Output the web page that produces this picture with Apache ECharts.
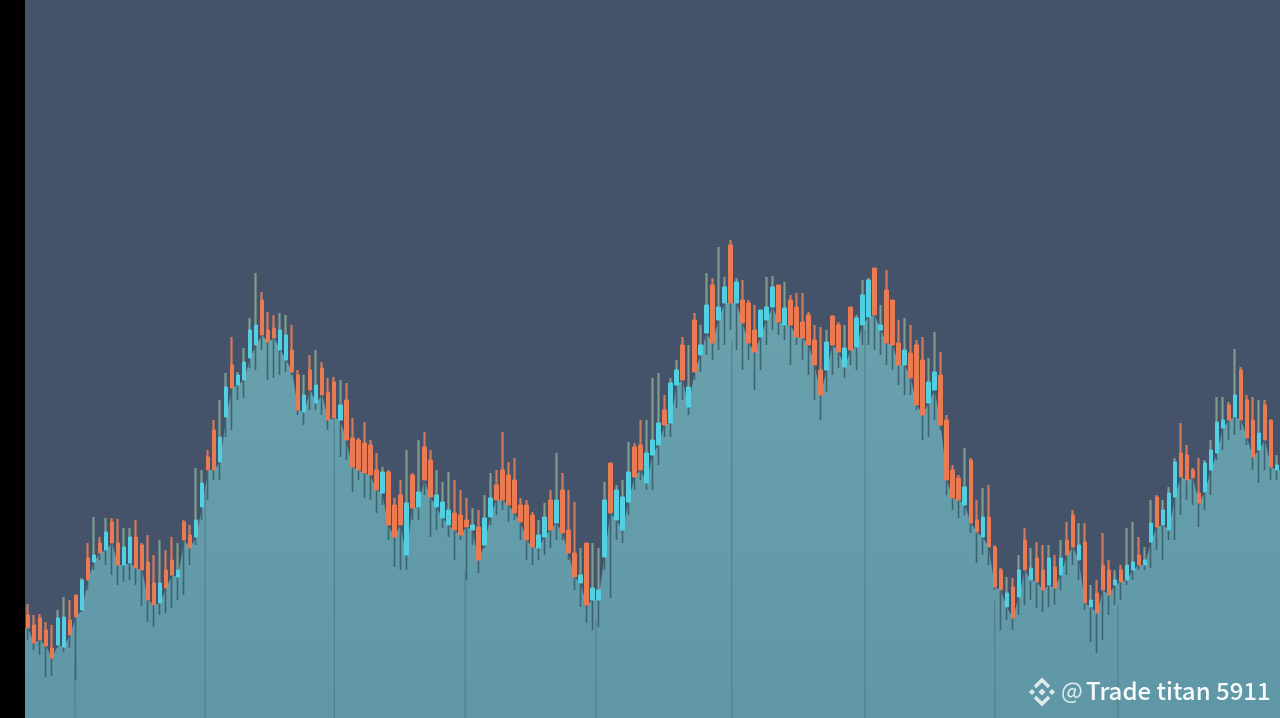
<!DOCTYPE html>
<html>
<head>
<meta charset="utf-8">
<style>html,body{margin:0;padding:0;background:#000;width:1280px;height:718px;overflow:hidden}#c{width:1280px;height:718px}#c canvas{filter:blur(.55px)}</style>
<script src="https://cdn.jsdelivr.net/npm/echarts@6/dist/echarts.min.js"></script>
</head>
<body>
<div id="c"></div>
<script>
const opens=[103,93,100,88,70,73,71,98,123,108,160,156,175,168,196,175,153,155,181,173,156,135,115,148,158,141,196,183,181,
211,261,288,256,301,353,333,338,360,373,418,388,390,368,358,368,343,306,348,315,350,326,336,298,318,
280,278,275,273,248,225,246,213,223,163,243,211,271,258,211,200,193,205,203,198,188,191,173,201,233,248,243,
238,213,213,203,170,181,218,195,228,188,165,135,175,118,118,161,255,198,188,216,271,273,235,263,273,308,295,333,373,311,398,363,385,
433,398,415,473,415,418,415,388,381,398,411,433,393,418,411,396,403,378,348,348,402,393,351,411,371,393,401,450,388,428,418,375,353,365,373,358,
315,328,343,298,248,240,213,258,198,181,201,171,148,111,131,121,178,
138,160,148,133,151,143,178,203,158,176,111,125,153,148,133,148,138,148,163,153,
176,221,193,188,221,265,263,248,225,226,248,265,290,313,301,348,318,298,268,313,298,248];
const closes=[90,75,78,72,60,100,101,83,101,138,138,163,165,186,175,153,171,181,150,148,118,113,135,130,143,148,178,170,198,
235,248,248,281,331,330,343,356,388,393,383,376,380,388,383,346,308,323,328,333,323,298,300,313,278,
251,248,245,243,228,246,193,181,193,215,210,226,238,221,223,216,208,188,183,191,193,158,200,220,218,218,213,
205,196,178,171,183,201,188,218,185,165,141,143,113,130,128,218,205,228,221,246,241,248,265,278,295,293,335,348,338,331,346,373,413,
375,411,431,415,436,395,375,366,408,411,431,396,410,393,381,380,373,353,323,376,373,366,370,368,400,423,438,403,393,375,373,353,368,340,313,303,
336,346,293,238,220,218,231,195,186,201,171,131,128,125,100,148,148,
150,136,128,160,130,160,163,171,173,115,118,105,128,123,138,136,153,156,153,158,
195,191,208,225,256,241,238,240,215,255,268,296,298,298,323,298,280,261,285,278,251,253];
const highs=[114,103,104,96,93,108,121,118,123,140,175,201,181,200,200,199,190,190,198,175,183,163,178,168,181,175,198,193,250,
248,268,298,318,345,381,346,370,400,445,426,406,403,405,403,393,348,343,363,368,356,340,341,338,335,
300,280,296,278,265,251,248,220,238,268,245,278,286,268,248,236,246,238,228,220,210,208,223,245,248,286,256,
260,220,218,206,198,215,228,265,245,228,216,170,175,175,170,236,255,233,238,276,275,298,298,340,345,323,340,358,381,373,405,393,445,
440,471,441,478,440,438,418,413,408,441,442,433,436,423,425,425,406,393,391,388,402,396,393,411,403,438,440,450,413,448,418,398,400,393,378,381,
360,386,366,303,253,243,270,260,218,230,233,173,150,141,140,163,190,
170,176,173,173,163,178,196,208,195,195,133,138,185,158,148,153,190,196,181,171,
218,223,218,231,260,295,273,250,260,258,278,321,321,316,369,351,323,321,318,318,298,263];
const lows=[78,68,63,41,42,70,66,70,38,106,128,148,158,153,143,133,136,138,133,112,96,91,103,105,110,118,123,153,173,
198,218,238,238,281,288,318,320,350,348,368,338,340,343,346,343,303,293,308,308,303,288,298,261,258,
226,238,220,218,205,213,178,151,148,148,198,198,223,181,188,190,181,158,178,138,173,145,170,193,203,208,196,
198,178,158,153,158,163,170,178,178,158,128,111,95,88,91,148,120,178,175,203,228,238,228,228,253,281,281,310,318,303,338,346,363,
358,368,373,388,368,348,358,328,348,373,388,383,378,353,373,358,343,318,298,326,343,350,340,353,348,373,373,368,363,353,348,333,323,323,308,278,
281,298,288,223,208,200,203,185,155,163,153,128,88,98,88,103,113,
118,110,106,111,113,128,143,153,138,108,76,65,78,103,113,118,133,138,148,148,
150,168,158,178,178,203,218,213,191,208,223,258,268,278,283,288,273,248,235,248,238,238];
const sessionBreaks=[8.33,30,51.5,73.3,95.1,117.7,139.9,161.5,182];
const breakHeights=[58,228,298,148,98,378,388,118,113];
const watermarkHandle="Trade titan 5911";

const categories=opens.map((_,i)=>String(i+1));
const bodyTop=opens.map((o,i)=>Math.max(o,closes[i]));
const bodyBot=opens.map((o,i)=>Math.min(o,closes[i]));
const count=opens.length;
const areaData=[[0,bodyBot[0]]].concat(bodyBot.map((v,i)=>[i+.5,v]),[[count,bodyBot[count-1]]]);

const chart=echarts.init(document.getElementById('c'),null,{renderer:'canvas'});
const ORANGE='#ea7a52',CYAN='#52cfe0',MARK='#dfeaec',FONT='"Noto Sans CJK SC",sans-serif';
const diamond=(cx,cy,r)=>({type:'polygon',z:20,shape:{points:[[cx,cy-r],[cx+r,cy],[cx,cy+r],[cx-r,cy]]},style:{fill:MARK}});
chart.setOption({
  animation:false,
  backgroundColor:'#000',
  tooltip:{show:false},
  legend:{show:false},
  grid:{left:25,right:0,top:0,bottom:0,show:true,backgroundColor:'#445369',borderWidth:0},
  xAxis:[
    {type:'category',data:categories,show:false,boundaryGap:true},
    {type:'value',min:0,max:count,show:false}
  ],
  yAxis:{type:'value',min:0,max:718,show:false},
  series:[
    {type:'line',xAxisIndex:1,data:areaData,showSymbol:false,silent:true,lineStyle:{width:0},
     areaStyle:{opacity:1,color:new echarts.graphic.LinearGradient(0,0,0,1,[{offset:0,color:'#69a2ad'},{offset:1,color:'#5f97a7'}])},z:2},
    {type:'bar',xAxisIndex:1,barWidth:1,data:sessionBreaks.map((x,i)=>[x,breakHeights[i]]),itemStyle:{color:'#507a89'},silent:true,z:3},
    {type:'candlestick',barWidth:1,silent:true,z:4,
     data:opens.map((o,i)=>[bodyBot[i],bodyBot[i],lows[i],bodyBot[i]]),
     itemStyle:{color:'#3c6470',color0:'#3c6470',borderColor:'#3c6470',borderColor0:'#3c6470',borderWidth:1.6}},
    {type:'candlestick',barWidth:1,silent:true,z:5,
     data:opens.map((o,i)=>[o,closes[i],bodyTop[i],highs[i]]),
     itemStyle:{color:'#7d9d8e',color0:'#d07a5c',borderColor:'#7d9d8e',borderColor0:'#d07a5c',borderWidth:2.2}},
    {type:'candlestick',barWidth:4,silent:true,z:6,
     data:opens.map((o,i)=>[o,closes[i],bodyBot[i],bodyTop[i]]),
     itemStyle:{color:CYAN,color0:ORANGE,borderColor:CYAN,borderColor0:ORANGE,borderWidth:1}}
  ],
  graphic:[
    {type:'text',left:1061,top:679,z:20,style:{text:'@',fontFamily:FONT,fontSize:23,fill:MARK}},
    {type:'text',left:1086,top:679,z:20,style:{text:watermarkHandle,fontFamily:FONT,fontSize:24,fontWeight:500,fill:'#f6fafa'}},
    {type:'polyline',z:20,shape:{points:[[1035,687],[1042,680],[1049,687]]},style:{stroke:MARK,fill:'none',lineWidth:3.5}},
    {type:'polyline',z:20,shape:{points:[[1035,697],[1042,704],[1049,697]]},style:{stroke:MARK,fill:'none',lineWidth:3.5}},
    diamond(1042,692,3.5),diamond(1032,692,3),diamond(1052,692,3)
  ]
});
</script>
</body>
</html>
